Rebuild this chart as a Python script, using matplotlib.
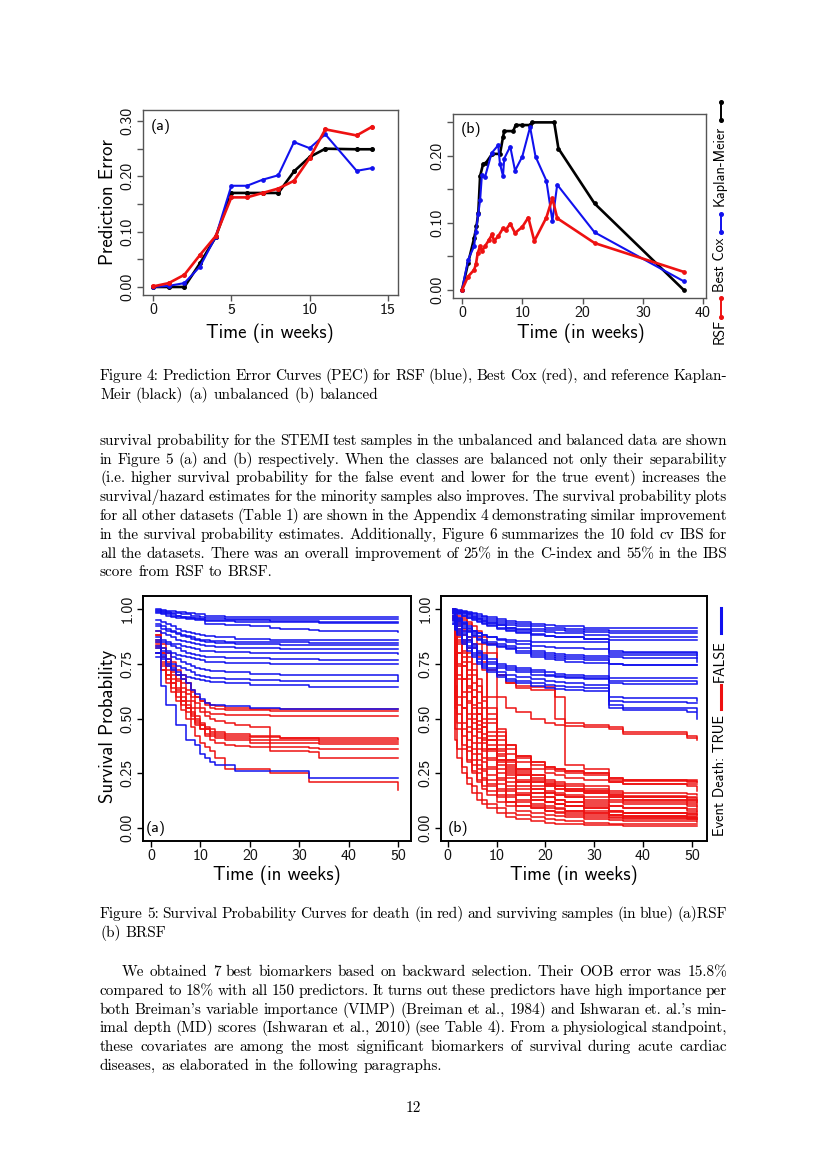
import matplotlib
matplotlib.use('Agg')
import matplotlib.pyplot as plt
from matplotlib.lines import Line2D

# ---------------- data: Figure 4 (prediction error curves) ----------------
pec_a_time = [0, 1, 2, 3, 4, 5, 6, 7, 8, 9, 10, 11, 13, 14]
km_a = [0, 0, 0, 0.043, 0.09, 0.17, 0.17, 0.17, 0.17, 0.209, 0.235, 0.25, 0.249, 0.249]
rsf_a = [0.001, 0.007, 0.022, 0.058, 0.092, 0.162, 0.162, 0.170, 0.178, 0.192, 0.233, 0.285, 0.274, 0.29]
cox_a = [0, 0.002, 0.007, 0.037, 0.091, 0.183, 0.183, 0.194, 0.202, 0.262, 0.251, 0.276, 0.21, 0.215]

km_b_time = [0, 1, 2, 2.4, 2.7, 3.0, 3.5, 4.0, 5.0, 6.3, 6.8, 7.0, 8.5, 8.9, 10, 11.3, 11.6, 15.3, 16, 22, 36.8]
km_b = [0, 0.04, 0.077, 0.095, 0.115, 0.17, 0.188, 0.19, 0.203, 0.203, 0.228, 0.237, 0.237, 0.246, 0.246,
        0.246, 0.25, 0.25, 0.211, 0.129, 0.0]
cox_b_time = [0, 1, 2, 2.3, 2.7, 3.0, 3.3, 3.8, 4.9, 6.0, 6.3, 6.8, 7.0, 8.0, 8.8, 10, 11.3, 12.2, 14, 15,
              15.8, 22, 36.8]
cox_b = [0, 0.045, 0.065, 0.087, 0.114, 0.134, 0.172, 0.168, 0.204, 0.216, 0.188, 0.17, 0.196, 0.214, 0.178,
         0.199, 0.243, 0.199, 0.163, 0.103, 0.157, 0.086, 0.013]
rsf_b_time = [0, 1, 2, 2.3, 2.6, 3.0, 3.3, 3.8, 4.5, 5.0, 5.3, 6.0, 6.8, 7.3, 8.0, 8.8, 10, 11, 12, 14, 15,
              15.8, 22, 36.8]
rsf_b = [0, 0.02, 0.03, 0.038, 0.055, 0.065, 0.058, 0.065, 0.075, 0.083, 0.073, 0.08, 0.092, 0.09, 0.099,
         0.085, 0.094, 0.108, 0.073, 0.108, 0.137, 0.107, 0.07, 0.027]

legend4_labels = ['RSF', 'Best Cox', 'Kaplan-Meier']

# ---------------- data: Figure 5 (survival curves) ----------------
surv_a_time = [1, 2, 3, 4, 5, 6, 7, 8, 9, 10, 11, 12, 13, 15, 17, 20, 24, 26, 32, 34, 50]
surv_a_false = [
    [1.0, 0.995, 0.99, 0.99, 0.985, 0.985, 0.98, 0.98, 0.975, 0.975, 0.97, 0.97, 0.97, 0.965, 0.965, 0.965, 0.962, 0.962, 0.962, 0.962, 0.962],
    [0.995, 0.99, 0.985, 0.98, 0.98, 0.975, 0.975, 0.97, 0.97, 0.965, 0.96, 0.96, 0.96, 0.955, 0.955, 0.955, 0.955, 0.955, 0.955, 0.952, 0.952],
    [0.99, 0.985, 0.98, 0.975, 0.97, 0.965, 0.96, 0.96, 0.955, 0.955, 0.95, 0.95, 0.95, 0.948, 0.948, 0.948, 0.945, 0.945, 0.945, 0.94, 0.94],
    [0.985, 0.98, 0.975, 0.97, 0.97, 0.965, 0.965, 0.96, 0.96, 0.955, 0.93, 0.93, 0.93, 0.925, 0.925, 0.92, 0.915, 0.91, 0.905, 0.90, 0.897],
    [0.98, 0.975, 0.97, 0.965, 0.96, 0.96, 0.955, 0.955, 0.95, 0.95, 0.945, 0.945, 0.945, 0.945, 0.94, 0.94, 0.94, 0.94, 0.94, 0.936, 0.936],
    [0.95, 0.94, 0.93, 0.92, 0.91, 0.90, 0.895, 0.89, 0.885, 0.88, 0.875, 0.875, 0.87, 0.87, 0.865, 0.865, 0.86, 0.86, 0.86, 0.858, 0.858],
    [0.93, 0.92, 0.91, 0.90, 0.89, 0.88, 0.875, 0.87, 0.865, 0.86, 0.86, 0.855, 0.855, 0.85, 0.85, 0.85, 0.848, 0.848, 0.845, 0.845, 0.845],
    [0.92, 0.91, 0.90, 0.895, 0.885, 0.875, 0.87, 0.865, 0.86, 0.855, 0.85, 0.85, 0.845, 0.845, 0.84, 0.84, 0.84, 0.835, 0.835, 0.835, 0.835],
    [0.90, 0.89, 0.88, 0.87, 0.86, 0.855, 0.85, 0.845, 0.84, 0.835, 0.83, 0.83, 0.825, 0.825, 0.82, 0.82, 0.82, 0.818, 0.818, 0.815, 0.815],
    [0.87, 0.86, 0.85, 0.84, 0.84, 0.83, 0.825, 0.82, 0.815, 0.81, 0.81, 0.81, 0.805, 0.805, 0.805, 0.80, 0.80, 0.80, 0.80, 0.798, 0.795],
    [0.86, 0.85, 0.84, 0.83, 0.82, 0.81, 0.80, 0.795, 0.79, 0.785, 0.78, 0.78, 0.78, 0.775, 0.775, 0.775, 0.77, 0.77, 0.77, 0.767, 0.767],
    [0.83, 0.82, 0.81, 0.80, 0.79, 0.785, 0.78, 0.775, 0.77, 0.765, 0.76, 0.76, 0.76, 0.755, 0.755, 0.755, 0.75, 0.75, 0.75, 0.749, 0.749],
    [0.82, 0.81, 0.80, 0.78, 0.77, 0.76, 0.75, 0.74, 0.73, 0.725, 0.72, 0.715, 0.715, 0.71, 0.71, 0.705, 0.705, 0.70, 0.70, 0.70, 0.67],
    [0.80, 0.79, 0.77, 0.75, 0.74, 0.73, 0.72, 0.71, 0.70, 0.695, 0.69, 0.685, 0.685, 0.68, 0.68, 0.675, 0.675, 0.67, 0.67, 0.67, 0.67],
    [0.78, 0.77, 0.75, 0.73, 0.71, 0.70, 0.69, 0.685, 0.68, 0.675, 0.67, 0.665, 0.665, 0.66, 0.66, 0.655, 0.655, 0.655, 0.645, 0.645, 0.643],
    [0.80, 0.78, 0.74, 0.72, 0.70, 0.68, 0.66, 0.63, 0.61, 0.59, 0.57, 0.56, 0.56, 0.555, 0.555, 0.55, 0.55, 0.545, 0.545, 0.545, 0.545],
    [0.85, 0.65, 0.56, 0.56, 0.47, 0.47, 0.40, 0.40, 0.38, 0.34, 0.32, 0.30, 0.29, 0.29, 0.26, 0.26, 0.26, 0.26, 0.23, 0.23, 0.228],
]
surv_a_true = [
    [0.90, 0.84, 0.80, 0.76, 0.72, 0.70, 0.66, 0.62, 0.60, 0.58, 0.57, 0.56, 0.555, 0.55, 0.55, 0.545, 0.545, 0.545, 0.545, 0.543, 0.543],
    [0.88, 0.82, 0.77, 0.74, 0.70, 0.68, 0.66, 0.63, 0.60, 0.58, 0.56, 0.55, 0.545, 0.54, 0.54, 0.54, 0.535, 0.535, 0.535, 0.535, 0.535],
    [0.86, 0.80, 0.76, 0.72, 0.70, 0.66, 0.63, 0.60, 0.57, 0.55, 0.53, 0.52, 0.52, 0.515, 0.515, 0.515, 0.512, 0.512, 0.512, 0.512, 0.512],
    [0.85, 0.78, 0.74, 0.70, 0.67, 0.62, 0.58, 0.55, 0.51, 0.48, 0.46, 0.45, 0.44, 0.43, 0.43, 0.42, 0.415, 0.41, 0.41, 0.41, 0.405],
    [0.83, 0.76, 0.72, 0.68, 0.64, 0.60, 0.56, 0.53, 0.50, 0.47, 0.45, 0.44, 0.43, 0.42, 0.42, 0.415, 0.40, 0.40, 0.40, 0.395, 0.395],
    [0.82, 0.74, 0.70, 0.66, 0.62, 0.58, 0.55, 0.52, 0.49, 0.47, 0.45, 0.43, 0.42, 0.41, 0.41, 0.40, 0.39, 0.39, 0.39, 0.385, 0.385],
    [0.80, 0.72, 0.68, 0.64, 0.60, 0.56, 0.53, 0.50, 0.47, 0.45, 0.43, 0.42, 0.41, 0.40, 0.40, 0.39, 0.37, 0.37, 0.365, 0.36, 0.36],
    [0.84, 0.75, 0.70, 0.66, 0.63, 0.58, 0.55, 0.51, 0.48, 0.45, 0.42, 0.40, 0.39, 0.38, 0.375, 0.37, 0.35, 0.35, 0.345, 0.32, 0.32],
    [0.80, 0.72, 0.66, 0.62, 0.58, 0.54, 0.50, 0.46, 0.42, 0.39, 0.37, 0.35, 0.32, 0.27, 0.27, 0.27, 0.25, 0.25, 0.21, 0.21, 0.175],
    [0.88, 0.80, 0.75, 0.71, 0.68, 0.64, 0.61, 0.58, 0.55, 0.53, 0.51, 0.50, 0.49, 0.48, 0.47, 0.46, 0.42, 0.41, 0.41, 0.40, 0.40],
]

surv_b_time = [1, 1.5, 2, 3, 4, 5, 6, 7, 8, 10, 12, 14, 17, 20, 22, 24, 28, 33, 36, 49, 51]
surv_b_false = [
    [1.0, 0.998, 0.995, 0.99, 0.985, 0.98, 0.975, 0.97, 0.965, 0.955, 0.945, 0.94, 0.93, 0.925, 0.922, 0.92, 0.915, 0.912, 0.912, 0.912, 0.912],
    [0.995, 0.993, 0.99, 0.985, 0.98, 0.975, 0.97, 0.965, 0.955, 0.945, 0.935, 0.93, 0.92, 0.915, 0.912, 0.91, 0.905, 0.90, 0.90, 0.90, 0.90],
    [0.99, 0.988, 0.985, 0.98, 0.975, 0.97, 0.96, 0.955, 0.945, 0.935, 0.925, 0.92, 0.91, 0.905, 0.902, 0.90, 0.895, 0.89, 0.889, 0.889, 0.889],
    [0.985, 0.983, 0.98, 0.975, 0.97, 0.96, 0.955, 0.945, 0.935, 0.925, 0.915, 0.91, 0.90, 0.895, 0.892, 0.89, 0.88, 0.872, 0.871, 0.871, 0.871],
    [0.98, 0.978, 0.975, 0.97, 0.96, 0.955, 0.945, 0.935, 0.925, 0.915, 0.905, 0.895, 0.885, 0.875, 0.872, 0.87, 0.865, 0.86, 0.859, 0.859, 0.859],
    [1.0, 0.995, 0.99, 0.985, 0.975, 0.965, 0.955, 0.945, 0.935, 0.925, 0.915, 0.905, 0.78, 0.77, 0.765, 0.76, 0.755, 0.75, 0.745, 0.745, 0.745],
    [0.98, 0.97, 0.96, 0.94, 0.92, 0.90, 0.89, 0.88, 0.87, 0.86, 0.85, 0.84, 0.83, 0.825, 0.822, 0.82, 0.815, 0.81, 0.805, 0.805, 0.76],
    [0.975, 0.965, 0.955, 0.935, 0.915, 0.90, 0.89, 0.88, 0.87, 0.865, 0.86, 0.855, 0.85, 0.85, 0.85, 0.85, 0.85, 0.79, 0.79, 0.79, 0.79],
    [0.97, 0.96, 0.95, 0.93, 0.91, 0.89, 0.875, 0.86, 0.85, 0.84, 0.83, 0.82, 0.81, 0.80, 0.795, 0.79, 0.785, 0.78, 0.775, 0.775, 0.775],
    [0.97, 0.955, 0.945, 0.92, 0.90, 0.88, 0.865, 0.85, 0.84, 0.83, 0.82, 0.81, 0.80, 0.79, 0.785, 0.78, 0.775, 0.685, 0.684, 0.684, 0.684],
    [0.96, 0.95, 0.94, 0.915, 0.895, 0.875, 0.86, 0.845, 0.835, 0.825, 0.815, 0.80, 0.79, 0.78, 0.775, 0.77, 0.765, 0.75, 0.745, 0.745, 0.745],
    [0.96, 0.945, 0.93, 0.90, 0.87, 0.84, 0.81, 0.79, 0.77, 0.75, 0.74, 0.73, 0.72, 0.71, 0.705, 0.70, 0.695, 0.673, 0.673, 0.673, 0.66],
    [0.95, 0.935, 0.92, 0.89, 0.86, 0.83, 0.80, 0.78, 0.76, 0.74, 0.73, 0.72, 0.71, 0.70, 0.695, 0.69, 0.685, 0.66, 0.658, 0.658, 0.658],
    [0.95, 0.93, 0.91, 0.88, 0.85, 0.82, 0.79, 0.77, 0.75, 0.73, 0.72, 0.71, 0.70, 0.695, 0.69, 0.685, 0.68, 0.60, 0.595, 0.593, 0.58],
    [0.94, 0.92, 0.90, 0.86, 0.83, 0.80, 0.77, 0.75, 0.73, 0.71, 0.70, 0.69, 0.68, 0.67, 0.665, 0.66, 0.655, 0.58, 0.575, 0.57, 0.57],
    [0.93, 0.91, 0.89, 0.85, 0.82, 0.79, 0.76, 0.74, 0.72, 0.70, 0.68, 0.67, 0.66, 0.655, 0.65, 0.645, 0.64, 0.56, 0.55, 0.55, 0.532],
    [0.93, 0.905, 0.88, 0.84, 0.81, 0.78, 0.75, 0.73, 0.71, 0.69, 0.67, 0.66, 0.65, 0.64, 0.635, 0.63, 0.625, 0.55, 0.54, 0.53, 0.50],
    [0.99, 0.985, 0.98, 0.97, 0.96, 0.95, 0.94, 0.93, 0.92, 0.91, 0.90, 0.89, 0.88, 0.875, 0.872, 0.87, 0.865, 0.80, 0.80, 0.80, 0.80],
]
surv_b_true = [
    [0.95, 0.40, 0.32, 0.25, 0.20, 0.16, 0.13, 0.11, 0.09, 0.07, 0.05, 0.04, 0.03, 0.025, 0.02, 0.02, 0.015, 0.012, 0.01, 0.01, 0.01],
    [0.96, 0.45, 0.36, 0.28, 0.23, 0.19, 0.16, 0.13, 0.11, 0.09, 0.07, 0.06, 0.05, 0.04, 0.035, 0.03, 0.025, 0.02, 0.02, 0.02, 0.018],
    [0.97, 0.55, 0.45, 0.36, 0.30, 0.25, 0.21, 0.18, 0.15, 0.12, 0.10, 0.08, 0.07, 0.06, 0.055, 0.05, 0.04, 0.035, 0.03, 0.03, 0.028],
    [0.97, 0.65, 0.52, 0.42, 0.35, 0.29, 0.25, 0.22, 0.19, 0.15, 0.12, 0.10, 0.09, 0.08, 0.07, 0.06, 0.05, 0.045, 0.04, 0.04, 0.035],
    [0.98, 0.75, 0.60, 0.48, 0.40, 0.34, 0.29, 0.26, 0.22, 0.18, 0.15, 0.13, 0.11, 0.10, 0.09, 0.08, 0.07, 0.06, 0.055, 0.05, 0.045],
    [0.98, 0.82, 0.68, 0.55, 0.46, 0.39, 0.34, 0.30, 0.27, 0.22, 0.18, 0.15, 0.13, 0.12, 0.11, 0.10, 0.09, 0.08, 0.07, 0.06, 0.06],
    [0.99, 0.88, 0.75, 0.62, 0.52, 0.45, 0.39, 0.35, 0.31, 0.25, 0.21, 0.18, 0.16, 0.14, 0.13, 0.12, 0.11, 0.10, 0.09, 0.08, 0.075],
    [0.99, 0.90, 0.80, 0.68, 0.58, 0.50, 0.44, 0.39, 0.35, 0.29, 0.24, 0.21, 0.18, 0.16, 0.15, 0.14, 0.13, 0.12, 0.11, 0.10, 0.09],
    [0.99, 0.92, 0.84, 0.74, 0.64, 0.56, 0.49, 0.43, 0.38, 0.31, 0.26, 0.22, 0.19, 0.17, 0.16, 0.15, 0.14, 0.13, 0.12, 0.11, 0.10],
    [1.0, 0.94, 0.87, 0.78, 0.68, 0.60, 0.52, 0.46, 0.40, 0.33, 0.28, 0.24, 0.21, 0.19, 0.18, 0.17, 0.16, 0.14, 0.13, 0.12, 0.115],
    [1.0, 0.95, 0.89, 0.81, 0.72, 0.63, 0.55, 0.48, 0.42, 0.35, 0.30, 0.26, 0.23, 0.20, 0.19, 0.18, 0.17, 0.15, 0.14, 0.13, 0.125],
    [0.99, 0.96, 0.91, 0.84, 0.76, 0.66, 0.57, 0.50, 0.44, 0.36, 0.31, 0.27, 0.24, 0.21, 0.20, 0.19, 0.18, 0.16, 0.145, 0.135, 0.13],
    [0.98, 0.93, 0.86, 0.76, 0.65, 0.55, 0.47, 0.41, 0.36, 0.30, 0.25, 0.21, 0.18, 0.16, 0.15, 0.14, 0.12, 0.10, 0.09, 0.085, 0.08],
    [0.97, 0.90, 0.80, 0.68, 0.57, 0.48, 0.41, 0.36, 0.32, 0.27, 0.23, 0.19, 0.16, 0.14, 0.13, 0.12, 0.10, 0.08, 0.07, 0.065, 0.06],
    [0.96, 0.86, 0.74, 0.60, 0.50, 0.42, 0.36, 0.32, 0.28, 0.23, 0.19, 0.16, 0.14, 0.12, 0.11, 0.10, 0.08, 0.06, 0.05, 0.045, 0.04],
    [0.99, 0.95, 0.90, 0.85, 0.78, 0.70, 0.62, 0.55, 0.48, 0.40, 0.34, 0.30, 0.27, 0.25, 0.24, 0.23, 0.22, 0.21, 0.20, 0.20, 0.20],
    [0.99, 0.96, 0.92, 0.86, 0.80, 0.72, 0.65, 0.58, 0.50, 0.42, 0.36, 0.32, 0.29, 0.27, 0.26, 0.25, 0.24, 0.22, 0.215, 0.21, 0.21],
    [1.0, 0.97, 0.93, 0.88, 0.82, 0.75, 0.68, 0.60, 0.52, 0.44, 0.38, 0.33, 0.30, 0.28, 0.27, 0.26, 0.25, 0.23, 0.22, 0.22, 0.22],
    [0.98, 0.92, 0.85, 0.74, 0.62, 0.52, 0.45, 0.40, 0.36, 0.31, 0.27, 0.24, 0.21, 0.19, 0.18, 0.17, 0.16, 0.14, 0.13, 0.13, 0.12],
    [0.99, 0.94, 0.88, 0.80, 0.70, 0.60, 0.52, 0.46, 0.40, 0.34, 0.29, 0.25, 0.22, 0.20, 0.19, 0.18, 0.17, 0.15, 0.14, 0.14, 0.14],
    [1.0, 0.98, 0.96, 0.93, 0.90, 0.87, 0.84, 0.80, 0.72, 0.60, 0.55, 0.53, 0.50, 0.48, 0.47, 0.465, 0.46, 0.45, 0.43, 0.41, 0.40],
    [1.0, 0.99, 0.98, 0.96, 0.94, 0.92, 0.90, 0.87, 0.84, 0.70, 0.66, 0.64, 0.63, 0.63, 0.60, 0.29, 0.27, 0.21, 0.20, 0.19, 0.17],
    [1.0, 0.99, 0.97, 0.95, 0.93, 0.90, 0.87, 0.84, 0.80, 0.70, 0.66, 0.65, 0.645, 0.645, 0.50, 0.48, 0.47, 0.46, 0.44, 0.42, 0.41],
    [1.0, 0.98, 0.95, 0.91, 0.87, 0.84, 0.80, 0.76, 0.60, 0.45, 0.38, 0.33, 0.30, 0.28, 0.27, 0.26, 0.25, 0.23, 0.22, 0.215, 0.21],
    [0.99, 0.97, 0.94, 0.90, 0.86, 0.82, 0.78, 0.72, 0.55, 0.38, 0.31, 0.27, 0.24, 0.22, 0.21, 0.20, 0.19, 0.17, 0.16, 0.155, 0.15],
    [0.97, 0.85, 0.70, 0.55, 0.44, 0.36, 0.31, 0.27, 0.24, 0.20, 0.17, 0.15, 0.13, 0.12, 0.11, 0.10, 0.09, 0.075, 0.07, 0.07, 0.065],
    [0.95, 0.60, 0.48, 0.38, 0.31, 0.26, 0.22, 0.19, 0.17, 0.14, 0.12, 0.10, 0.09, 0.08, 0.075, 0.07, 0.06, 0.05, 0.045, 0.04, 0.04],
    [0.96, 0.70, 0.56, 0.45, 0.37, 0.31, 0.27, 0.23, 0.20, 0.17, 0.14, 0.12, 0.10, 0.09, 0.085, 0.08, 0.07, 0.06, 0.055, 0.05, 0.05],
]

# ---------------- text ----------------
caption4 = ["Figure 4: Prediction Error Curves (PEC) for RSF (blue), Best Cox (red), and reference Kaplan-",
            "Meir (black) (a) unbalanced (b) balanced"]
para1 = ["survival probability for the STEMI test samples in the unbalanced and balanced data are shown",
         "in Figure 5 (a) and (b) respectively. When the classes are balanced not only their separability",
         "(i.e. higher survival probability for the false event and lower for the true event) increases the",
         "survival/hazard estimates for the minority samples also improves. The survival probability plots",
         "for all other datasets (Table 1) are shown in the Appendix 4 demonstrating similar improvement",
         "in the survival probability estimates. Additionally, Figure 6 summarizes the 10 fold cv IBS for",
         "all the datasets. There was an overall improvement of 25% in the C-index and 55% in the IBS",
         "score from RSF to BRSF."]
caption5 = ["Figure 5: Survival Probability Curves for death (in red) and surviving samples (in blue) (a)RSF",
            "(b) BRSF"]
para2 = ["We obtained 7 best biomarkers based on backward selection. Their OOB error was 15.8%",
         "compared to 18% with all 150 predictors. It turns out these predictors have high importance per",
         "both Breiman's variable importance (VIMP) (Breiman et al., 1984) and Ishwaran et. al.'s min-",
         "imal depth (MD) scores (Ishwaran et al., 2010) (see Table 4). From a physiological standpoint,",
         "these covariates are among the most significant biomarkers of survival during acute cardiac",
         "diseases, as elaborated in the following paragraphs."]

# ---------------- drawing ----------------
W, H = 827, 1169
fig = plt.figure(figsize=(W / 100, H / 100), dpi=100)
SANS = ['cmss10', 'DejaVu Sans']
SERIF = ['cmr10', 'DejaVu Serif']
RED = '#ee1111'
BLUE = '#1111ee'
TICK = 11.5
LEG = 10.3


def fx(x):
    return x / W


def fy(y):
    return 1 - y / H


def axes_px(x0, y0, x1, y1):
    return fig.add_axes([fx(x0), fy(y1), (x1 - x0) / W, (y1 - y0) / H])


def style(ax, xt, yt, ylab_idx, spine_col, spine_lw):
    ax.set_xticks(xt)
    ax.set_xticklabels([('%g' % v) for v in xt], fontsize=TICK, family=SANS)
    ax.set_yticks(yt)
    labs = [('%.2f' % v) if i in ylab_idx else '' for i, v in enumerate(yt)]
    ax.set_yticklabels(labs, fontsize=TICK, family=SANS, rotation=90, va='center')
    ax.tick_params(direction='out', length=4, width=1.0, pad=2, color=spine_col, labelcolor='#111111')
    for s in ax.spines.values():
        s.set_color(spine_col)
        s.set_linewidth(spine_lw)


# Figure 4 (a)
ax = axes_px(143, 110, 398, 295)
ax.plot(pec_a_time, km_a, color='black', lw=1.9, marker='o', ms=2.6)
ax.plot(pec_a_time, cox_a, color=BLUE, lw=1.5, marker='o', ms=2.4)
ax.plot(pec_a_time, rsf_a, color=RED, lw=1.9, marker='o', ms=2.6)
ax.set_xlim(-0.64, 15.64)
ax.set_ylim(-0.0145, 0.32)
style(ax, [0, 5, 10, 15], [0, 0.05, 0.10, 0.15, 0.20, 0.25, 0.30], {0, 2, 4, 6}, '#555555', 1.0)
ax.text(0.03, 0.95, '(a)', transform=ax.transAxes, fontsize=TICK, family=SANS, va='top', ha='left')

# Figure 4 (b)
ax = axes_px(453, 114, 706, 298)
ax.plot(km_b_time, km_b, color='black', lw=1.9, marker='o', ms=2.4)
ax.plot(cox_b_time, cox_b, color=BLUE, lw=1.5, marker='o', ms=2.4)
ax.plot(rsf_b_time, rsf_b, color=RED, lw=1.9, marker='o', ms=2.4)
ax.set_xlim(-1.5, 40.5)
ax.set_ylim(-0.012, 0.2625)
style(ax, [0, 10, 20, 30, 40], [0, 0.05, 0.10, 0.15, 0.20, 0.25], {0, 2, 4}, '#555555', 1.0)
ax.text(0.03, 0.955, '(b)', transform=ax.transAxes, fontsize=TICK, family=SANS, va='top', ha='left')

fig.text(fx(108), fy(202), 'Prediction Error', rotation=90, ha='center', va='center', fontsize=13.5, family=SANS)
fig.text(fx(270), fy(333), 'Time (in weeks)', ha='center', va='center', fontsize=13.5, family=SANS)
fig.text(fx(581), fy(333), 'Time (in weeks)', ha='center', va='center', fontsize=13.5, family=SANS)

# legend of Figure 4 (vertical)
leg_cols = [RED, BLUE, 'black']
leg_seg = [(298, 317), (214, 232), (102, 120)]
leg_txt = [331, 265, 166]
for lab, col, (a, b), yc in zip(legend4_labels, leg_cols, leg_seg, leg_txt):
    fig.add_artist(Line2D([fx(721), fx(721)], [fy(a), fy(b)], color=col, lw=1.4, marker='o', ms=2.6))
    fig.text(fx(720), fy(yc), lab, rotation=90, ha='center', va='center', fontsize=LEG, family=SANS)

# Figure 5 (a)
ax = axes_px(143, 596, 411, 841)
for v in surv_a_true:
    ax.step(surv_a_time, v, where='post', color=RED, lw=1.1)
for v in surv_a_false:
    ax.step(surv_a_time, v, where='post', color=BLUE, lw=1.1)
ax.set_xlim(-1.62, 52.6)
ax.set_ylim(-0.059, 1.059)
style(ax, [0, 10, 20, 30, 40, 50], [0, 0.25, 0.5, 0.75, 1.0], {0, 1, 2, 3, 4}, 'black', 1.4)
ax.text(0.012, 0.053, '(a)', transform=ax.transAxes, fontsize=TICK, family=SANS, va='center', ha='left')

# Figure 5 (b)
ax = axes_px(441, 596, 707, 841)
for v in surv_b_true:
    ax.step(surv_b_time, v, where='post', color=RED, lw=1.1)
for v in surv_b_false:
    ax.step(surv_b_time, v, where='post', color=BLUE, lw=1.1)
ax.set_xlim(-1.37, 53.1)
ax.set_ylim(-0.059, 1.059)
style(ax, [0, 10, 20, 30, 40, 50], [0, 0.25, 0.5, 0.75, 1.0], {0, 1, 2, 3, 4}, 'black', 1.4)
ax.text(0.025, 0.053, '(b)', transform=ax.transAxes, fontsize=TICK, family=SANS, va='center', ha='left')

fig.text(fx(108), fy(726), 'Survival Probability', rotation=90, ha='center', va='center', fontsize=13.5, family=SANS)
fig.text(fx(277), fy(875), 'Time (in weeks)', ha='center', va='center', fontsize=13.5, family=SANS)
fig.text(fx(574), fy(875), 'Time (in weeks)', ha='center', va='center', fontsize=13.5, family=SANS)

fig.text(fx(720), fy(776), 'Event Death: TRUE', rotation=90, ha='center', va='center', fontsize=LEG, family=SANS)
fig.add_artist(Line2D([fx(721), fx(721)], [fy(685), fy(709)], color=RED, lw=2.2))
fig.text(fx(720), fy(661), 'FALSE', rotation=90, ha='center', va='center', fontsize=LEG, family=SANS)
fig.add_artist(Line2D([fx(721), fx(721)], [fy(608), fy(633)], color=BLUE, lw=2.2))

# ---------------- body text (justified, word by word, common pixel baseline) ----------------
renderer = fig.canvas.get_renderer()
CANVAS_H = fig.bbox.height
X0, X1 = 100, 727
FS = 11


def put_line(line, yc, justify=True, indent=0):
    words = line.split(' ')
    B = round(yc + 5)  # baseline pixel row from the top
    ts = []
    ws = []
    for w in words:
        t = fig.text(0, 0, w, fontsize=FS, family=SERIF, va='baseline', ha='left')
        tw, th, td = renderer.get_text_width_height_descent(w, t.get_fontproperties(), ismath=False)
        yb = B + int(th) - int(th - td) - td
        t.set_y((CANVAS_H - yb) / CANVAS_H)
        ts.append(t)
        ws.append(t.get_window_extent(renderer).width)
    start = X0 + indent
    if justify and len(words) > 1:
        gap = (X1 - start - sum(ws)) / (len(words) - 1)
    else:
        gap = FS * 100 / 72 * 0.333
    x = start
    for t, w in zip(ts, ws):
        t.set_x(fx(x))
        x += w + gap


def put_par(lines, y0, step=18.75, indent=0):
    for i, ln in enumerate(lines):
        put_line(ln, y0 + i * step, justify=(i < len(lines) - 1), indent=(indent if i == 0 else 0))


put_par(caption4, 375)
put_par(para1, 440)
put_par(caption5, 913)
put_par(para2, 971, indent=22)
fig.text(fx(413), fy(1112), '12', fontsize=FS, family=SERIF, ha='center', va='baseline')

fig.savefig('out.png', dpi=100)
